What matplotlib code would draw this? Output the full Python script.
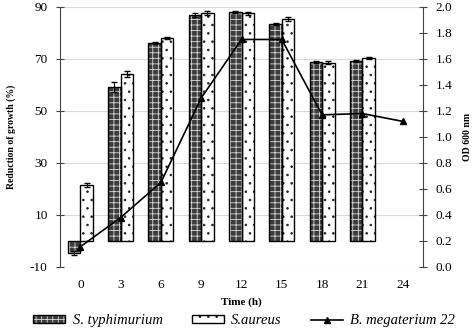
import numpy as np
import matplotlib
matplotlib.use("Agg")
import matplotlib.pyplot as plt

plt.rcParams['font.family'] = ['Liberation Serif', 'DejaVu Serif']
plt.rcParams['axes.unicode_minus'] = False
plt.rcParams['hatch.linewidth'] = 0.6

# sampling times (h) and measured values
times = ['0', '3', '6', '9', '12', '15', '18', '21', '24']
typhimurium = [-4.5, 59.2, 76.0, 86.9, 88.0, 83.5, 68.8, 69.2]
typhimurium_err = [0.8, 1.8, 0.4, 0.8, 0.4, 0.5, 0.4, 0.4]
aureus = [21.5, 64.2, 78.0, 87.6, 87.6, 85.4, 68.6, 70.3]
aureus_err = [0.8, 1.2, 0.5, 0.8, 0.6, 0.8, 0.5, 0.5]
od600 = [0.155, 0.38, 0.65, 1.30, 1.75, 1.75, 1.17, 1.18, 1.12]

fig = plt.figure(figsize=(4.74, 3.32), dpi=100)
ax = fig.add_axes([0.127, 0.196, 0.765, 0.783])

x = np.arange(len(typhimurium))
w = 0.31

# patterned fills first, then black outlines on top
b1 = ax.bar(x - w/2, typhimurium, w, color='#3c3c3c', hatch='+++', edgecolor='#d8d8d8', linewidth=0, zorder=2)
b1o = ax.bar(x - w/2, typhimurium, w, fill=False, edgecolor='black', linewidth=1.0, zorder=3)
b2 = ax.bar(x + w/2, aureus, w, color='white', hatch='..', edgecolor='#222222', linewidth=0, zorder=2)
b2o = ax.bar(x + w/2, aureus, w, fill=False, edgecolor='black', linewidth=1.0, zorder=3)
ax.errorbar(x - w/2, typhimurium, yerr=typhimurium_err, fmt='none', ecolor='black', elinewidth=0.8, capsize=2, zorder=4)
ax.errorbar(x + w/2, aureus, yerr=aureus_err, fmt='none', ecolor='black', elinewidth=0.8, capsize=2, zorder=4)

ax.set_ylim(-10, 90)
ax.set_yticks([-10, 10, 30, 50, 70, 90])
ax.set_xlim(-0.5, len(times) - 0.5)
ax.set_xticks(np.arange(len(times)))
ax.set_xticklabels(times)
ax.grid(axis='y', color='#d9d9d9', linewidth=0.8, zorder=0)
ax.set_axisbelow(True)
for s in ['top', 'right', 'bottom']:
    ax.spines[s].set_visible(False)
ax.spines['left'].set_color('#444444')
ax.tick_params(axis='y', direction='inout', length=6, labelsize=9.5, color='#444444', pad=6)
ax.tick_params(axis='x', length=0, labelsize=9.5, pad=9)
ax.set_ylabel('Reduction of growth (%)', fontsize=7, fontweight='bold', labelpad=10)
ax.set_xlabel('Time (h)', fontsize=8, fontweight='bold', labelpad=4)

ax2 = ax.twinx()
ln, = ax2.plot(np.arange(len(od600)), od600, color='black', marker='^', markersize=4.5, linewidth=1.2, zorder=5)
ax2.set_ylim(0, 2.0)
ax2.set_yticks(np.arange(0, 2.01, 0.2))
ax2.set_yticklabels(['%.1f' % v for v in np.arange(0, 2.01, 0.2)])
for s in ['top', 'left', 'bottom']:
    ax2.spines[s].set_visible(False)
ax2.spines['right'].set_color('#444444')
ax2.tick_params(axis='y', direction='inout', length=6, labelsize=9.5, color='#444444', pad=6)
ax2.set_ylabel('OD 600 nm', fontsize=7, fontweight='bold', labelpad=8)

fig.legend([(b1[0], b1o[0]), (b2[0], b2o[0]), ln],
           ['S. typhimurium', 'S.aureus', 'B. megaterium 22'],
           loc='lower center', bbox_to_anchor=(0.515, -0.025), ncol=3, frameon=False,
           prop={'style': 'italic', 'size': 10.5}, handlelength=2.2, handleheight=0.5,
           columnspacing=2.0, handletextpad=0.5)

fig.savefig('out.png', dpi=100)
